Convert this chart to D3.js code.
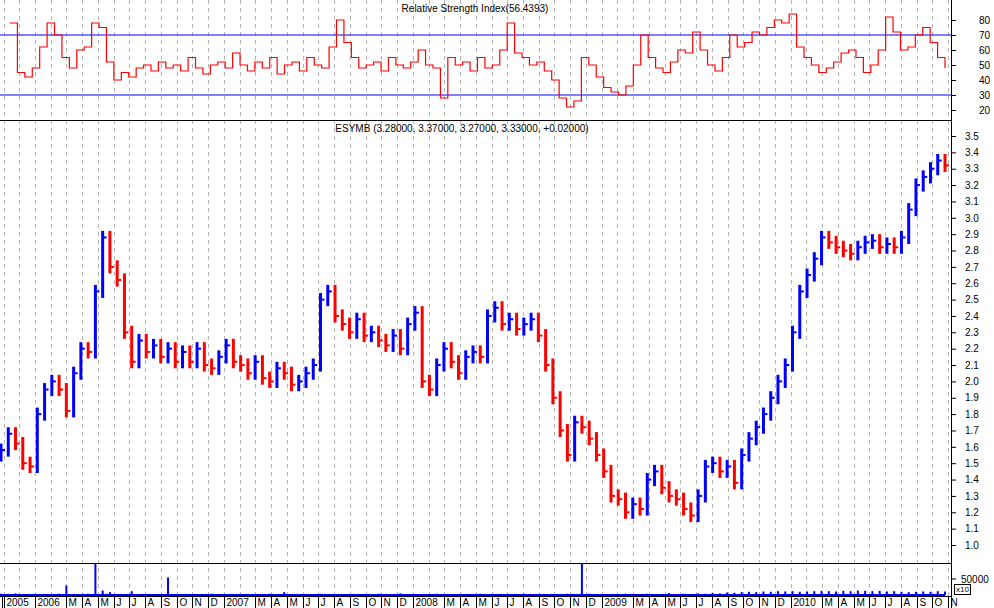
<!DOCTYPE html><html><head><meta charset="utf-8">
<script src="https://cdn.jsdelivr.net/npm/d3@7"></script>
<style>body{margin:0;background:#fff}svg{display:block;font-family:"Liberation Sans",Arial,sans-serif}</style></head><body>
<svg id="c" width="994" height="608"></svg>
<script>
// biweekly closes, Nov 2005 .. Oct 2010
const price=[1.58,1.68,1.62,1.50,1.48,1.80,1.95,2.00,1.95,1.82,2.05,2.20,2.18,2.55,2.88,2.70,2.62,2.30,2.12,2.25,2.18,2.22,2.15,2.20,2.12,2.18,2.12,2.20,2.10,2.08,2.15,2.22,2.12,2.10,2.05,2.12,2.02,2.00,2.08,2.05,1.98,2.00,2.05,2.10,2.50,2.55,2.40,2.35,2.30,2.38,2.28,2.30,2.25,2.22,2.28,2.20,2.35,2.42,2.00,1.95,2.10,2.20,2.12,2.05,2.15,2.18,2.15,2.40,2.45,2.35,2.38,2.32,2.35,2.38,2.28,2.10,1.90,1.70,1.55,1.75,1.72,1.65,1.55,1.45,1.30,1.28,1.20,1.25,1.22,1.40,1.45,1.35,1.30,1.28,1.22,1.18,1.30,1.48,1.50,1.45,1.48,1.38,1.55,1.65,1.72,1.80,1.90,2.00,2.10,2.30,2.55,2.65,2.75,2.88,2.85,2.82,2.80,2.78,2.82,2.85,2.86,2.82,2.84,2.82,2.88,3.05,3.20,3.25,3.30,3.35,3.32];
const rsi=[78,45,42,48,62,78,70,55,48,60,62,78,75,52,40,45,42,48,50,46,52,48,50,46,55,48,44,50,52,48,58,50,46,52,48,55,44,50,52,46,55,50,48,62,80,65,55,48,50,52,46,55,50,48,52,60,50,48,28,55,50,52,46,55,48,50,60,78,58,55,50,52,46,40,28,22,26,55,50,42,35,32,30,36,50,70,55,48,45,52,60,58,72,60,50,46,55,70,62,65,72,70,75,80,78,84,62,55,50,45,48,52,58,60,55,45,50,60,82,72,60,62,70,75,65,55,48];
const vol=[4000,3000,5000,2000,3000,3000,3000,3000,4000,30000,3000,2000,4000,160000,14000,9000,2000,3000,12000,2000,3000,3000,2000,55000,3000,2000,3000,2000,3000,4000,2000,3000,2000,3000,2000,3000,2000,4000,3000,9000,3000,2000,2000,3000,4000,2000,3000,2000,3000,2000,3000,2000,4000,3000,2000,5000,3000,2000,3000,2000,4000,3000,2000,3000,2000,3000,4000,3000,2000,3000,2000,3000,4000,3000,2000,3000,2000,3000,4000,3000,160000,4000,2000,3000,2000,3000,4000,2000,3000,4000,3000,2000,6000,3000,4000,3000,5000,4000,6000,5000,8000,7000,9000,10000,9000,11000,10000,12000,11000,12000,10000,11000,12000,13000,12000,11000,13000,12000,14000,13000,12000,13000,11000,12000,10000,9000,10000,11000,10000,12000,11000];
const priceTicks=[1.0,1.1,1.2,1.3,1.4,1.5,1.6,1.7,1.8,1.9,2.0,2.1,2.2,2.3,2.4,2.5,2.6,2.7,2.8,2.9,3.0,3.1,3.2,3.3,3.4,3.5];
const rsiTicks=[20,30,40,50,60,70,80];
const monthIdx=d3.range(-2,59);
const monthLetters=["","","M","A","M","J","J","A","S","O","N","D"];

const svg=d3.select("#c");
const W=951;
const x=d3.scaleLinear().domain([0,58]).range([35,948]);
const xi=d3.scaleLinear().domain([0,price.length-1]).range([1,945]);
const xr=d3.scaleLinear().domain([0,rsi.length-1]).range([10,945]);
const yR=d3.scaleLinear().domain([30,70]).range([95,35]);
const yP=d3.scaleLinear().domain([1.0,3.5]).range([545,136]);
const yV=d3.scaleLinear().domain([0,50000]).range([595,579]);

monthIdx.forEach(k=>{
  const px=Math.round(x(k))+0.5;
  if(px>W||px<0) return;
  svg.append("line").attr("x1",px).attr("x2",px).attr("y1",0).attr("y2",596)
    .attr("stroke","#b4b4b4").attr("stroke-dasharray","4,4");
  const mo=((k%12)+12)%12, yr=2006+Math.floor(k/12);
  let lab = mo===0 ? String(yr) : monthLetters[mo];
  if(k===-2) lab="2005";
  if(k===-1) lab="";
  if(lab){
    svg.append("line").attr("x1",px).attr("x2",px).attr("y1",596).attr("y2",608).attr("stroke","#000");
    svg.append("text").attr("x",px+2).attr("y",606).attr("font-size",10).text(lab);
  }
});
svg.append("line").attr("x1",2.5).attr("x2",2.5).attr("y1",596).attr("y2",608).attr("stroke","#000");

[120.5,563.5,596.5].forEach(y=>svg.append("line").attr("x1",0).attr("x2",W).attr("y1",y).attr("y2",y).attr("stroke","#000"));
svg.append("line").attr("x1",W+0.5).attr("x2",W+0.5).attr("y1",0).attr("y2",608).attr("stroke","#000");

[30,70].forEach(v=>svg.append("line").attr("x1",0).attr("x2",W).attr("y1",yR(v)).attr("y2",yR(v)).attr("stroke","#0000ff").attr("stroke-width",1.2));
svg.append("path").datum(rsi).attr("fill","none").attr("stroke","#ff0000").attr("stroke-width",1.2)
  .attr("d",d3.line().x((d,i)=>xr(i)).y(d=>yR(d)).curve(d3.curveStepAfter));
svg.append("text").attr("x",475).attr("y",12).attr("text-anchor","middle").attr("font-size",10).text("Relative Strength Index(56.4393)");
const gR=svg.append("g").attr("transform",`translate(${W},0)`).call(d3.axisRight(yR).tickValues(rsiTicks).tickSize(5));
gR.select(".domain").remove();
gR.selectAll("text").attr("x",28).attr("font-size",10).attr("font-family","Liberation Sans");

const g=svg.append("g");
price.forEach((c,i)=>{
  const prev=i?price[i-1]:c-0.03;
  const up=c>=prev;
  const px=xi(i);
  const hi=Math.max(c,prev)+0.04, lo=Math.min(c,prev)-0.04;
  const col=up?"#0000ff":"#ff0000";
  g.append("line").attr("x1",px).attr("x2",px).attr("y1",yP(hi)).attr("y2",yP(lo)).attr("stroke",col).attr("stroke-width",3);
  g.append("line").attr("x1",px).attr("x2",px+4).attr("y1",yP(c)).attr("y2",yP(c)).attr("stroke",col).attr("stroke-width",2);
});
svg.append("text").attr("x",462).attr("y",132).attr("text-anchor","middle").attr("font-size",10).text("ESYMB (3.28000, 3.37000, 3.27000, 3.33000, +0.02000)");
const gP=svg.append("g").attr("transform",`translate(${W},0)`).call(d3.axisRight(yP).tickValues(priceTicks).tickSize(5).tickFormat(d3.format(".1f")));
gP.select(".domain").remove();
gP.selectAll("text").attr("x",14).attr("font-size",10).attr("font-family","Liberation Sans");

vol.forEach((v,i)=>{
  const top=Math.max(564,yV(v));
  svg.append("rect").attr("x",xi(i)-1).attr("width",2).attr("y",top).attr("height",595-top).attr("fill","#0000ff");
});
svg.append("rect").attr("x",0).attr("y",594).attr("width",945).attr("height",2).attr("fill","#0000ff");
svg.append("line").attr("x1",W).attr("x2",W+5).attr("y1",yV(50000)).attr("y2",yV(50000)).attr("stroke","#000");
svg.append("text").attr("x",W+10).attr("y",yV(50000)+4).attr("font-size",10).text("50000");
svg.append("rect").attr("x",W+3.5).attr("y",584.5).attr("width",16).attr("height",10).attr("fill","#fff").attr("stroke","#000");
svg.append("text").attr("x",W+5).attr("y",592).attr("font-size",8).text("x10");
</script></body></html>
